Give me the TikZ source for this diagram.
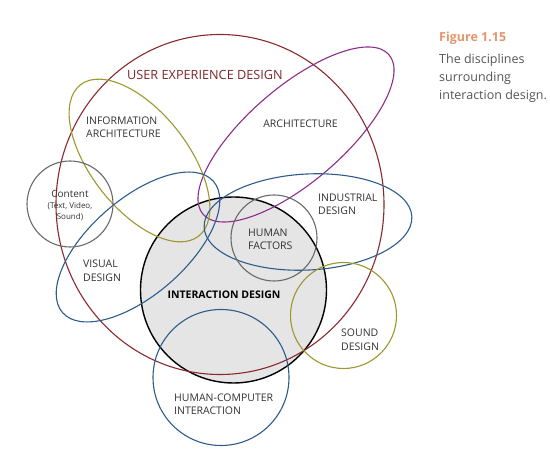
\documentclass[tikz,border=0pt]{standalone}
\usepackage{fontspec}
\setmainfont{Open Sans}
\usetikzlibrary{shapes.geometric}
\definecolor{uxred}{RGB}{138,40,44}
\definecolor{titlered}{RGB}{122,38,42}
\definecolor{olive}{RGB}{155,152,45}
\definecolor{purp}{RGB}{140,45,140}
\definecolor{bluel}{RGB}{45,92,140}
\definecolor{grayl}{RGB}{105,105,105}
\definecolor{idfill}{RGB}{229,229,229}
\definecolor{labtext}{RGB}{50,50,50}
\definecolor{capor}{RGB}{232,148,106}
\definecolor{captext}{RGB}{85,85,85}
\tikzset{
  ring/.style={circle,draw,line width=1.1pt,inner sep=0pt},
  oval/.style={ellipse,draw,line width=1.1pt,inner sep=0pt},
  lab/.style={inner sep=0pt,align=left,text=labtext,font=\fontsize{10.5}{13.5}\selectfont},
  captxt/.style={inner sep=0pt,anchor=west,text=captext,font=\fontsize{12.5}{18}\selectfont}
}
\begin{document}
\begin{tikzpicture}[x=1pt,y=1pt]
\useasboundingbox (0,0) rectangle (550,455);
% filled interaction circle
\node[ring,fill=idfill,draw=black,line width=1.4pt,minimum size=186pt] (ixd) at (233.5,165) {};
% big UX ellipse
\node[oval,draw=uxred,minimum width=328pt,minimum height=340pt] (ux) at (220,250.5) {};
\node[oval,draw=purp,minimum width=245pt,minimum height=95pt,rotate=40.6] (arch) at (296,320.5) {};
\node[oval,draw=olive,minimum width=192pt,minimum height=97pt,rotate=-52] (ia) at (139.5,294.5) {};
\node[oval,draw=bluel,minimum width=200pt,minimum height=96pt,rotate=41] (vis) at (138,208) {};
\node[oval,draw=bluel,minimum width=208pt,minimum height=96pt,rotate=3] (ind) at (308,233) {};
\node[ring,draw=grayl,minimum size=86pt] (hf) at (274,217) {};
\node[ring,draw=grayl,minimum size=86pt] (content) at (70,251) {};
\node[ring,draw=olive,minimum size=106pt] (sound) at (343.5,139.5) {};
\node[ring,draw=bluel,minimum size=136pt] (hci) at (221,77.5) {};
% labels
\node[inner sep=0pt,text=titlered,font=\fontsize{12.7}{15}\selectfont] (tux) at (205,380) {USER EXPERIENCE DESIGN};
\node[lab,anchor=west] (tia) at (86,328) {INFORMATION\\ARCHITECTURE};
\node[lab] (tarch) at (300.5,331) {ARCHITECTURE};
\node[inner sep=0pt,align=center,text=labtext] (tcontent) at (70,249) {{\fontsize{10}{12}\selectfont Content}\\[-1pt]{\fontsize{8}{10}\selectfont (Text, Video,}\\[-1pt]{\fontsize{8}{10}\selectfont Sound)}};
\node[lab,anchor=west] (tind) at (318,250.5) {INDUSTRIAL\\DESIGN};
\node[lab,anchor=west] (thf) at (248,215.5) {HUMAN\\FACTORS};
\node[lab,anchor=west] (tvis) at (83,184) {VISUAL\\DESIGN};
\node[inner sep=0pt,text=black,font=\fontsize{10.5}{13}\selectfont\bfseries] (tixd) at (224,160) {INTERACTION DESIGN};
\node[lab,anchor=west] (tsound) at (341,115.5) {SOUND\\DESIGN};
\node[lab,anchor=west] (thci) at (174,51) {HUMAN-COMPUTER\\INTERACTION};
% caption
\node[captxt,text=capor,font=\fontsize{12.5}{15}\selectfont\bfseries] (fig) at (439,417) {Figure 1.15};
\node[captxt] (c1) at (439,395) {The disciplines};
\node[captxt] (c2) at (439,377) {surrounding};
\node[captxt] (c3) at (439,359) {interaction design.};
\end{tikzpicture}
\end{document}
